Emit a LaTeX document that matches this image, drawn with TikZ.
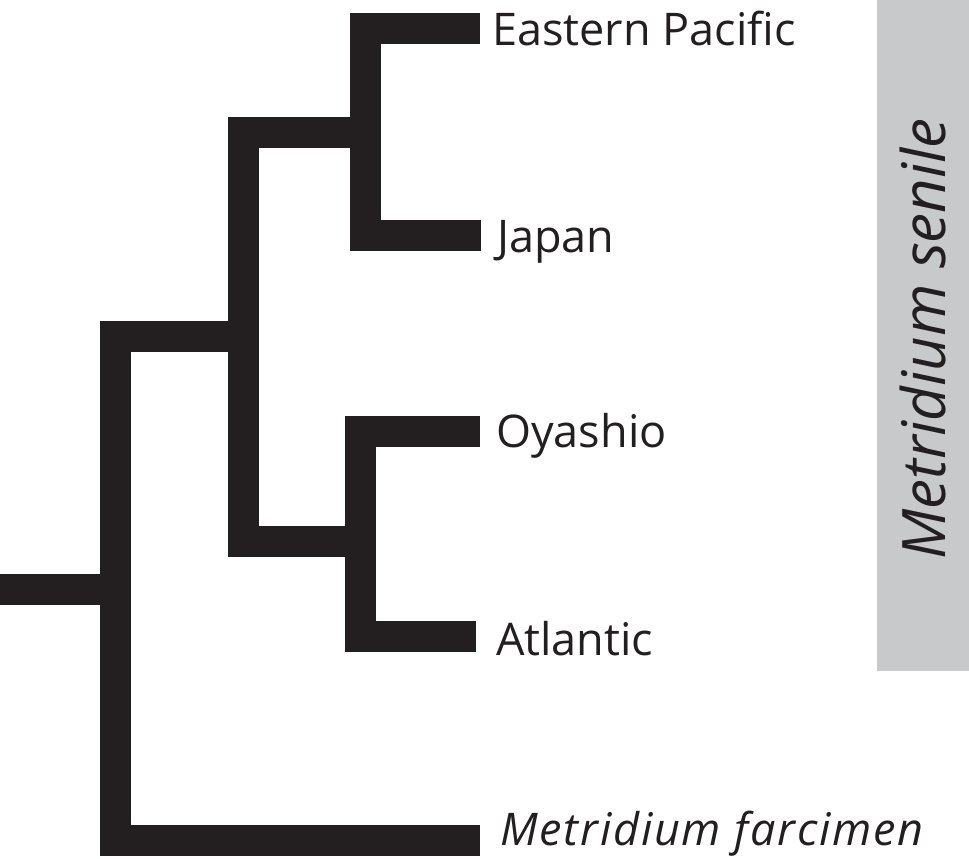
\documentclass[tikz,border=0pt]{standalone}
\usepackage{fontspec}
\setmainfont{Open Sans}
\definecolor{branch}{HTML}{231F20}
\definecolor{boxgray}{HTML}{C8C9CB}
\begin{document}
\begin{tikzpicture}[x=1pt,y=-1pt,
  br/.style={draw=branch,line width=31pt,line join=miter,line cap=butt},
  lab/.style={font=\fontsize{45}{52}\selectfont,text=branch,inner sep=0pt,anchor=base west},
  grp/.style={font=\fontsize{60}{66}\selectfont\itshape,text=branch,inner sep=0pt,rotate=90,anchor=base west}]
\useasboundingbox (0,0) rectangle (969,859);
% grey band
\fill[boxgray] (877,0) rectangle (969,671);
% internal nodes
\coordinate (root) at (0,589);
\coordinate (n1) at (115,589);
\coordinate (n2) at (243,336);
\coordinate (n3) at (365,132);
\coordinate (n4) at (360,541);
% tips
\coordinate (tEP) at (480,29);
\coordinate (tJP) at (481,235);
\coordinate (tOY) at (480,431);
\coordinate (tAT) at (476,636);
\coordinate (tMF) at (480,840);
% branches
\draw[br] (root) -- (n1);
\draw[br] (n2) -- (n1 |- n2) -- (n1 |- tMF) -- (tMF);
\draw[br] (n3) -- (n2 |- n3) -- (n2 |- n4) -- (n4);
\draw[br] (tEP) -- (n3 |- tEP) -- (n3 |- tJP) -- (tJP);
\draw[br] (tOY) -- (n4 |- tOY) -- (n4 |- tAT) -- (tAT);
% labels
\node[lab] (lEP) at (492,46) {Eastern Pacific};
\node[lab] (lJP) at (497,252) {Japan};
\node[lab] (lOY) at (496,447) {Oyashio};
\node[lab] (lAT) at (496,655) {Atlantic};
\node[lab,font=\fontsize{45}{52}\selectfont\itshape\addfontfeature{LetterSpace=4}] (lMF) at (500,845) {Metridium farcimen};
\node[grp] (lMS) at (945,560) {Metridium senile};
\end{tikzpicture}
\end{document}
